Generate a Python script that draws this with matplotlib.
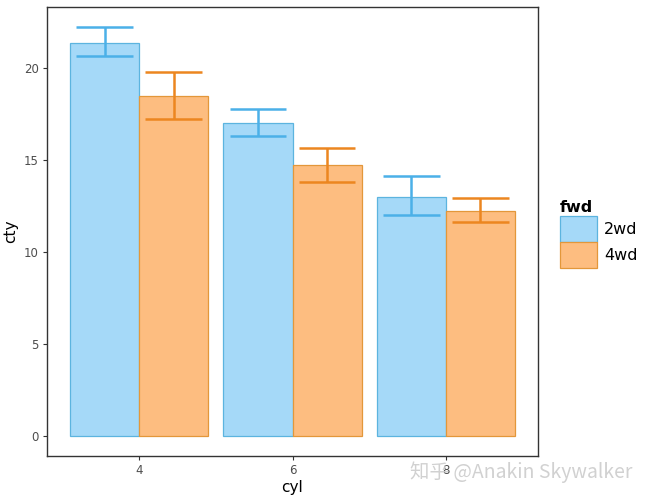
import numpy as np
import matplotlib
matplotlib.use("Agg")
from matplotlib import pyplot as plt
from matplotlib.patches import Patch

# Data
cyl_labels = ["4", "6", "8"]
fwd_levels = ["2wd", "4wd"]
cty_mean = {"2wd": [21.35, 17.0, 12.99],
            "4wd": [18.46, 14.69, 12.23]}
cty_low = {"2wd": [20.61, 16.28, 12.0],
           "4wd": [17.20, 13.78, 11.62]}
cty_high = {"2wd": [22.18, 17.74, 14.11],
            "4wd": [19.75, 15.63, 12.92]}
y_ticks = [0, 5, 10, 15, 20]

# Styles
FILL = {"2wd": "#a5d9f8", "4wd": "#fdbd80"}
EDGE = {"2wd": "#5cb4df", "4wd": "#e3973a"}
ERRCOLOR = {"2wd": "#4bb0e8", "4wd": "#ec8620"}
BARW = 0.45
ERRW = 0.37
TEXTGRAY = "#4d4d4d"

fig = plt.figure(figsize=(6.5, 5.03), dpi=100)
ax = fig.add_axes([47/650, 47/503, 491/650, 449/503])

x = np.arange(1, len(cyl_labels) + 1)
for i, f in enumerate(fwd_levels):
    xpos = x + (i - 0.5) * BARW
    ax.bar(xpos, cty_mean[f], width=BARW, color=FILL[f], edgecolor=EDGE[f],
           linewidth=0.9, zorder=2)
    for xc, lo, hi in zip(xpos, cty_low[f], cty_high[f]):
        ax.plot([xc, xc], [lo, hi], color=ERRCOLOR[f], lw=1.8, zorder=3,
                solid_capstyle="butt")
        ax.plot([xc - ERRW/2, xc + ERRW/2], [lo, lo], color=ERRCOLOR[f], lw=1.8, zorder=3,
                solid_capstyle="butt")
        ax.plot([xc - ERRW/2, xc + ERRW/2], [hi, hi], color=ERRCOLOR[f], lw=1.8, zorder=3,
                solid_capstyle="butt")

# Axes ggplot-like
ymax = max(max(v) for v in cty_high.values())
pad = ymax * 0.05
ax.set_ylim(-pad, ymax + pad)
ax.set_xlim(0.4, len(cyl_labels) + 0.6)
ax.set_xticks(x)
ax.set_xticklabels(cyl_labels)
ax.set_yticks(y_ticks)
ax.tick_params(axis="both", length=3, width=0.8, color="#333333",
               labelsize=8.5, labelcolor=TEXTGRAY, pad=3)
for s in ax.spines.values():
    s.set_color("#333333")
    s.set_linewidth(1.0)
ax.set_xlabel("cyl", fontsize=11, labelpad=2)
ax.set_ylabel("cty", fontsize=11, labelpad=4)

# Legend
handles = [Patch(facecolor=FILL[f], edgecolor=EDGE[f], linewidth=0.9, label=f)
           for f in fwd_levels]
leg = fig.legend(handles=handles, title="fwd", loc="upper left",
                 bbox_to_anchor=(549/650, 1 - 189/503), frameon=False,
                 fontsize=11.5, title_fontproperties={"weight": "bold", "size": 11.5},
                 handlelength=2.3, handleheight=2.1, handletextpad=0.45,
                 labelspacing=0.05, alignment="left", borderaxespad=0.3)

# Watermark
fig.text(410/650, 1 - 472/503, "知乎 @Anakin Skywalker", fontsize=14,
         color="#cccccc", alpha=0.9, va="center", ha="left",
         family=["Noto Sans CJK SC", "DejaVu Sans"])

fig.savefig("out.png", dpi=100)
